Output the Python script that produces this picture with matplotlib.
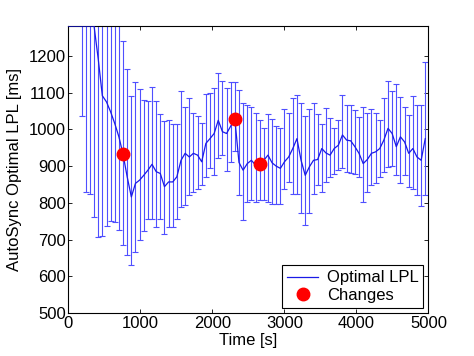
import numpy as np
import matplotlib
matplotlib.use("Agg")
import matplotlib.pyplot as plt

plt.rcParams['font.family'] = ['Liberation Sans', 'DejaVu Sans']

# time of each averaged sample [s]
times = [183, 240, 298, 355, 413, 470, 528, 585, 643, 700,
         758, 815, 873, 930, 988, 1045, 1103, 1160, 1218, 1275,
         1333, 1390, 1448, 1505, 1563, 1620, 1678, 1735, 1793, 1850,
         1908, 1965, 2023, 2080, 2138, 2195, 2253, 2310, 2368, 2425,
         2483, 2540, 2598, 2655, 2713, 2770, 2828, 2885, 2943, 3000,
         3058, 3115, 3173, 3230, 3288, 3345, 3403, 3460, 3518, 3575,
         3633, 3690, 3748, 3805, 3863, 3920, 3978, 4035, 4093, 4150,
         4208, 4265, 4323, 4380, 4438, 4495, 4553, 4610, 4668, 4725,
         4783, 4840, 4898, 4955]

# optimal LPL (mean) [ms]
lpl = [1282, 1282, 1282, 1282, 1192, 1092, 1075, 1048, 1016, 980,
       932, 871, 816, 853, 862, 875, 889, 905, 885, 880,
       844, 857, 857, 871, 916, 935, 925, 935, 930, 912,
       962, 975, 989, 1025, 994, 989, 1009, 1029, 910, 889,
       907, 916, 903, 905, 916, 930, 909, 900, 894, 912,
       925, 948, 975, 916, 875, 898, 916, 918, 948, 936,
       930, 948, 957, 985, 971, 969, 953, 935, 907, 918,
       935, 939, 948, 971, 1003, 989, 953, 980, 966, 935,
       948, 925, 916, 975]

lpl_low = [1037, 830, 825, 762, 707, 709, 737, 750, 748, 727,
           685, 657, 630, 666, 698, 723, 755, 755, 735, 757,
           716, 735, 735, 757, 789, 794, 821, 830, 839, 848,
           871, 894, 875, 921, 930, 887, 912, 941, 821, 753,
           803, 807, 803, 807, 807, 803, 798, 798, 798, 839,
           857, 825, 825, 771, 739, 771, 825, 848, 830, 857,
           871, 878, 889, 894, 885, 880, 878, 871, 803, 830,
           848, 853, 871, 885, 898, 901, 877, 853, 875, 844,
           839, 821, 791, 821]

lpl_high = [1530, 1735, 1740, 1780, 1630, 1480, 1410, 1350, 1300, 1300,
            1242, 1164, 1091, 1128, 1109, 1080, 1078, 1116, 1078, 1041,
            1023, 1025, 1014, 1014, 1105, 1062, 1086, 1045, 1036, 1018,
            1096, 1100, 1114, 1155, 1132, 1114, 1130, 1130, 1107, 1071,
            1066, 1060, 1044, 1025, 1005, 1041, 1029, 1009, 1005, 1057,
            1044, 1086, 1094, 1073, 1036, 1057, 1071, 1042, 1016, 1059,
            1030, 1005, 1025, 1094, 1068, 1068, 1053, 1035, 1062, 1044,
            1055, 1044, 1025, 1087, 1133, 1105, 1124, 1089, 1060, 1039,
            1091, 1068, 1066, 1185]

# times where the optimal LPL was changed
change_times = [758, 2310, 2655]
change_lpl = [932, 1029, 905]

t = np.array(times)
m = np.array(lpl)
err = [m - np.array(lpl_low), np.array(lpl_high) - m]

fig = plt.figure(figsize=(4.74, 3.56), dpi=100)
ax = fig.add_axes([0.1445, 0.121, 0.7595, 0.806])

ax.errorbar(t, m, yerr=err, fmt='none', ecolor='#4f4fff', elinewidth=0.8,
            capsize=2.5, capthick=0.8)
ax.plot([0] + times, [lpl[0]] + lpl, color='#1a1ae6', lw=0.9, zorder=3,
        label='Optimal LPL')
ax.plot(change_times, change_lpl, 'o', color='red', ms=9, zorder=4,
        label='Changes')

ax.set_xlim(0, 5000)
ax.set_ylim(500, 1282)
ax.set_xticks([0, 1000, 2000, 3000, 4000, 5000])
ax.set_yticks([500, 600, 700, 800, 900, 1000, 1100, 1200])
ax.tick_params(direction='in', top=True, right=True, labelsize=12,
               length=3, width=0.6, pad=2)
for s in ax.spines.values():
    s.set_linewidth(0.8)

ax.set_xlabel('Time [s]', fontsize=12, labelpad=2)
ax.set_ylabel('AutoSync Optimal LPL [ms]', fontsize=12, labelpad=5)

leg = ax.legend(loc='lower right', fontsize=12, fancybox=False,
                edgecolor='black', framealpha=1, handlelength=1.9,
                labelspacing=0.15, borderaxespad=0.3, borderpad=0.3,
                handletextpad=0.5)
leg.get_frame().set_linewidth(0.8)

fig.savefig('out.png', dpi=100)
